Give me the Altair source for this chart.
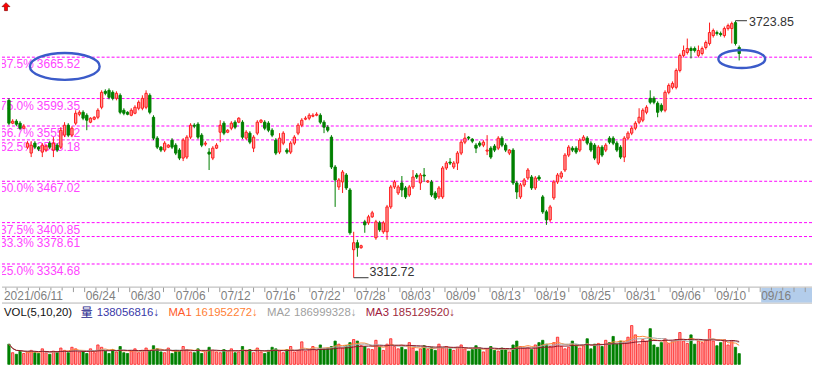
import altair as alt
import pandas as pd

# ---------------- data ----------------
opens = [3596.5, 3559.9, 3563.1, 3559.9, 3551.9, 3521.6, 3512.1, 3528.0, 3521.6, 3513.7,
         3516.9, 3528.0, 3516.9, 3524.8, 3521.6, 3540.8, 3556.7, 3540.8, 3559.9, 3574.2,
         3577.4, 3572.6, 3561.5, 3566.3, 3569.4, 3585.4, 3610.9, 3612.5, 3609.3, 3599.7,
         3604.5, 3580.6, 3577.4, 3572.6, 3575.8, 3583.8, 3583.8, 3585.4, 3604.5, 3569.4,
         3536.0, 3521.6, 3516.9, 3521.6, 3532.8, 3524.8, 3516.9, 3504.1, 3505.7, 3537.6,
         3556.7, 3558.3, 3540.8, 3526.4, 3513.7, 3504.1, 3520.0, 3545.5, 3559.9, 3545.5,
         3551.9, 3561.5, 3561.5, 3561.5, 3536.0, 3544.0, 3520.0, 3544.0, 3561.5, 3561.5,
         3559.9, 3548.7, 3532.8, 3513.7, 3528.0, 3516.9, 3513.7, 3528.0, 3544.0, 3556.7,
         3566.3, 3567.9, 3571.0, 3572.6, 3572.6, 3561.5, 3553.5, 3537.6, 3489.8, 3457.9,
         3465.9, 3477.0, 3453.1, 3357.5, 3368.7, 3360.7, 3402.1, 3400.5, 3410.1, 3376.6,
         3400.5, 3386.2, 3386.2, 3426.0, 3457.9, 3448.3, 3464.3, 3456.3, 3445.1, 3457.9,
         3477.0, 3464.3, 3477.0, 3465.9, 3465.9, 3448.3, 3442.0, 3442.0, 3488.2, 3497.7,
         3489.8, 3496.1, 3512.1, 3529.6, 3537.6, 3534.4, 3524.8, 3528.0, 3524.8, 3515.3,
         3520.0, 3523.2, 3520.0, 3536.0, 3524.8, 3512.1, 3516.9, 3464.3, 3442.0, 3461.1,
         3472.2, 3473.8, 3456.3, 3473.8, 3442.0, 3418.1, 3405.3, 3440.4, 3465.9, 3473.8,
         3485.0, 3508.9, 3520.0, 3520.0, 3516.9, 3532.8, 3536.0, 3528.0, 3524.8, 3496.1,
         3521.6, 3516.9, 3536.0, 3536.0, 3528.0, 3521.6, 3505.7, 3536.0, 3544.0, 3551.9,
         3561.5, 3564.7, 3577.4, 3599.7, 3599.7, 3591.8, 3588.6, 3580.6, 3609.3, 3617.3,
         3617.3, 3644.3, 3668.3, 3673.0, 3679.4, 3679.4, 3668.3, 3671.4, 3681.0, 3687.4,
         3700.1, 3704.9, 3703.3, 3700.1, 3711.3, 3711.3, 3720.8, 3681.0]

highs = [3599.7, 3566.3, 3566.3, 3563.1, 3558.3, 3531.2, 3531.2, 3531.2, 3523.2, 3528.0,
         3526.4, 3531.2, 3537.6, 3528.0, 3553.5, 3561.5, 3559.9, 3555.1, 3580.6, 3580.6,
         3580.6, 3575.8, 3569.4, 3571.0, 3583.8, 3612.5, 3614.1, 3615.7, 3612.5, 3610.9,
         3607.7, 3583.8, 3579.0, 3583.8, 3588.6, 3596.5, 3604.5, 3612.5, 3607.7, 3572.6,
         3539.2, 3523.2, 3531.2, 3526.4, 3536.0, 3528.0, 3520.0, 3536.0, 3540.8, 3559.9,
         3559.9, 3561.5, 3544.0, 3531.2, 3520.0, 3523.2, 3528.0, 3564.7, 3563.1, 3550.3,
         3563.1, 3564.7, 3569.4, 3564.7, 3548.7, 3547.1, 3540.8, 3564.7, 3566.3, 3564.7,
         3563.1, 3551.9, 3536.0, 3544.0, 3547.1, 3520.0, 3531.2, 3540.8, 3559.9, 3567.9,
         3571.0, 3575.8, 3575.8, 3577.4, 3575.8, 3564.7, 3556.7, 3540.8, 3493.0, 3472.2,
         3485.0, 3480.2, 3456.3, 3386.2, 3373.4, 3365.5, 3405.3, 3413.3, 3419.7, 3405.3,
         3403.7, 3403.7, 3429.2, 3461.1, 3469.1, 3461.1, 3475.4, 3459.5, 3461.1, 3485.0,
         3480.2, 3480.2, 3488.2, 3469.1, 3469.1, 3451.5, 3459.5, 3491.4, 3499.3, 3504.1,
         3499.3, 3515.3, 3532.8, 3544.0, 3539.2, 3536.0, 3528.0, 3531.2, 3532.8, 3540.8,
         3523.2, 3526.4, 3539.2, 3539.2, 3528.0, 3518.5, 3520.0, 3467.5, 3464.3, 3472.2,
         3488.2, 3477.0, 3475.4, 3477.0, 3445.1, 3421.3, 3429.2, 3469.1, 3480.2, 3483.4,
         3512.1, 3524.8, 3523.2, 3523.2, 3536.0, 3540.8, 3539.2, 3531.2, 3528.0, 3524.8,
         3524.8, 3528.0, 3539.2, 3539.2, 3531.2, 3524.8, 3539.2, 3547.1, 3555.1, 3563.1,
         3583.8, 3583.8, 3588.6, 3612.5, 3602.9, 3594.9, 3591.8, 3612.5, 3623.6, 3626.8,
         3647.5, 3671.4, 3684.2, 3695.3, 3682.6, 3682.6, 3684.2, 3682.6, 3692.2, 3720.8,
         3711.3, 3708.1, 3706.5, 3714.5, 3719.2, 3722.4, 3723.85, 3684.2]

lows = [3556.7, 3558.3, 3555.1, 3548.7, 3550.3, 3518.5, 3505.7, 3518.5, 3515.3, 3505.7,
        3513.7, 3518.5, 3505.7, 3513.7, 3518.5, 3537.6, 3537.6, 3537.6, 3556.7, 3571.0,
        3564.7, 3548.7, 3559.9, 3564.7, 3566.3, 3582.2, 3604.5, 3598.1, 3596.5, 3596.5,
        3574.2, 3572.6, 3572.6, 3571.0, 3574.2, 3580.6, 3580.6, 3582.2, 3574.2, 3532.8,
        3518.5, 3513.7, 3513.7, 3520.0, 3518.5, 3508.9, 3500.9, 3499.3, 3502.5, 3534.4,
        3551.9, 3534.4, 3521.6, 3523.2, 3485.0, 3500.9, 3518.5, 3529.6, 3540.8, 3544.0,
        3548.7, 3550.3, 3559.9, 3534.4, 3532.8, 3526.4, 3513.7, 3540.8, 3559.9, 3548.7,
        3545.5, 3537.6, 3508.9, 3510.5, 3524.8, 3510.5, 3510.5, 3524.8, 3540.8, 3553.5,
        3564.7, 3564.7, 3569.4, 3571.0, 3558.3, 3544.0, 3545.5, 3486.6, 3426.0, 3453.1,
        3448.3, 3453.1, 3381.4, 3312.72, 3346.3, 3359.1, 3384.6, 3397.3, 3408.5, 3373.4,
        3386.2, 3383.0, 3373.4, 3422.8, 3454.7, 3445.1, 3442.0, 3438.8, 3442.0, 3454.7,
        3470.6, 3453.1, 3465.9, 3464.3, 3442.0, 3437.2, 3438.8, 3438.8, 3485.0, 3493.0,
        3486.6, 3485.0, 3508.9, 3526.4, 3532.8, 3528.0, 3512.1, 3521.6, 3521.6, 3508.9,
        3502.5, 3513.7, 3516.9, 3521.6, 3513.7, 3508.9, 3461.1, 3438.8, 3438.8, 3457.9,
        3469.1, 3453.1, 3453.1, 3467.5, 3414.9, 3397.3, 3402.1, 3437.2, 3462.7, 3470.6,
        3481.8, 3505.7, 3513.7, 3510.5, 3513.7, 3531.2, 3524.8, 3513.7, 3500.9, 3493.0,
        3505.7, 3513.7, 3526.4, 3524.8, 3513.7, 3502.5, 3497.7, 3532.8, 3540.8, 3548.7,
        3558.3, 3561.5, 3574.2, 3590.2, 3590.2, 3569.4, 3577.4, 3577.4, 3606.1, 3614.1,
        3614.1, 3641.2, 3665.1, 3669.8, 3663.5, 3673.0, 3665.1, 3668.3, 3677.8, 3684.2,
        3696.9, 3700.1, 3698.5, 3696.9, 3708.1, 3687.4, 3684.2, 3660.3]

closes = [3559.9, 3563.1, 3558.3, 3551.9, 3555.1, 3528.0, 3524.8, 3521.6, 3518.5, 3524.8,
          3523.2, 3521.6, 3528.0, 3516.9, 3548.7, 3556.7, 3540.8, 3551.9, 3575.8, 3577.4,
          3567.9, 3564.7, 3567.9, 3569.4, 3580.6, 3609.3, 3607.7, 3601.3, 3599.7, 3607.7,
          3577.4, 3575.8, 3574.2, 3580.6, 3585.4, 3593.4, 3599.7, 3607.7, 3577.4, 3536.0,
          3521.6, 3516.9, 3528.0, 3524.8, 3521.6, 3512.1, 3504.1, 3532.8, 3537.6, 3556.7,
          3555.1, 3537.6, 3524.8, 3528.0, 3510.5, 3520.0, 3524.8, 3556.7, 3544.0, 3548.7,
          3559.9, 3553.5, 3567.9, 3537.6, 3545.5, 3529.6, 3537.6, 3561.5, 3564.7, 3551.9,
          3548.7, 3540.8, 3512.1, 3536.0, 3544.0, 3513.7, 3528.0, 3537.6, 3556.7, 3564.7,
          3567.9, 3572.6, 3572.6, 3574.2, 3561.5, 3553.5, 3548.7, 3489.8, 3469.1, 3469.1,
          3481.8, 3456.3, 3384.6, 3368.7, 3360.7, 3363.9, 3397.3, 3410.1, 3416.5, 3402.1,
          3389.4, 3400.5, 3426.0, 3457.9, 3465.9, 3457.9, 3453.1, 3442.0, 3457.9, 3473.8,
          3473.8, 3477.0, 3475.4, 3467.5, 3445.1, 3440.4, 3456.3, 3488.2, 3496.1, 3496.1,
          3496.1, 3512.1, 3529.6, 3536.0, 3536.0, 3531.2, 3520.0, 3524.8, 3529.6, 3516.9,
          3505.7, 3516.9, 3536.0, 3524.8, 3516.9, 3516.9, 3464.3, 3449.9, 3461.1, 3469.1,
          3485.0, 3456.3, 3472.2, 3470.6, 3418.1, 3405.3, 3426.0, 3465.9, 3477.0, 3480.2,
          3508.9, 3521.6, 3516.9, 3513.7, 3532.8, 3537.6, 3528.0, 3516.9, 3504.1, 3521.6,
          3508.9, 3524.8, 3529.6, 3528.0, 3516.9, 3505.7, 3536.0, 3544.0, 3551.9, 3559.9,
          3569.4, 3580.6, 3585.4, 3593.4, 3593.4, 3577.4, 3580.6, 3609.3, 3620.4, 3623.6,
          3644.3, 3668.3, 3676.2, 3679.4, 3676.2, 3676.2, 3676.2, 3679.4, 3689.0, 3704.9,
          3708.1, 3703.3, 3701.7, 3711.3, 3716.1, 3719.2, 3687.4, 3671.4]

# volume in millions of shares
volumes = [260, 150, 130, 170, 140, 160, 180, 150, 140, 200, 150, 130, 170, 160, 210, 180, 150, 220, 200, 160,
           170, 140, 200, 150, 250, 220, 170, 140, 190, 160, 230, 150, 140, 170, 200, 150, 180, 210, 170, 240,
           200, 160, 150, 210, 140, 180, 170, 230, 190, 160, 150, 200, 140, 170, 220, 180, 160, 150, 190, 170,
           200, 150, 160, 230, 170, 190, 150, 210, 160, 140, 180, 220, 200, 170, 150, 190, 230, 160, 180, 290,
           170, 190, 230, 180, 250, 200, 210, 230, 300, 260, 210, 240, 280, 320, 300, 240, 230, 200, 190, 310,
           220, 180, 260, 330, 230, 200, 220, 190, 280, 210, 170, 200, 240, 190, 220, 180, 260, 210, 230, 200,
           180, 220, 250, 200, 170, 190, 240, 210, 160, 200, 230, 180, 170, 210, 190, 160, 250, 300, 230, 210,
           220, 190, 250, 280, 310, 260, 230, 280, 350, 230, 200, 220, 300, 250, 210, 240, 330, 200, 260, 270,
           230, 310, 280, 360, 260, 300, 290, 350, 500, 380, 260, 320, 300, 460, 250, 220, 280, 330, 270, 300,
           320, 410, 300, 270, 380, 260, 300, 280, 320, 450, 300, 240, 280, 320, 250, 300, 220, 138.06]

fib_pct = ["87.5%", "75.0%", "66.7%", "62.5%", "50.0%", "37.5%", "33.3%", "25.0%"]
fib_val = ["3665.52", "3599.35", "3555.42", "3533.18", "3467.02", "3400.85", "3378.61", "3334.68"]

first_date = "2021/06/11"
date_labels = ["06/24", "06/30", "07/06", "07/12", "07/16", "07/22", "07/28", "08/03",
               "08/09", "08/13", "08/19", "08/25", "08/31", "09/06", "09/10", "09/16"]

high_text = "3723.85"
low_text = "3312.72"

vol_header = [("VOL(5,10,20)", "#111111"), ("量", "#23238c"), ("138056816↓", "#3838a8"),
              ("MA1", "#ff5a2a"), ("161952272↓", "#ff7f36"), ("MA2", "#a0a0a0"),
              ("186999328↓", "#a0a0a0"), ("MA3", "#a0203c"), ("185129520↓", "#a02a3c")]

# ---------------- layout constants ----------------
W = 813
PRICE_H = 287
BAND_H = 36
VOL_H = 42
XDOM = [-0.53, 215.3]
YDOM = [3298.5, 3755.9]
FONT = "Liberation Sans"

n = len(opens)
df = pd.DataFrame({"i": list(range(n)), "o": opens, "h": highs, "l": lows,
                   "c": closes, "v": volumes})
df["dir"] = ["up" if c >= o else "down" for o, c in zip(opens, closes)]

xs = alt.Scale(domain=XDOM, nice=False, zero=False)
ys = alt.Scale(domain=YDOM, nice=False, zero=False)
X = alt.X("i:Q", scale=xs, axis=None)
fill_sc = alt.Scale(domain=["up", "down"], range=["#ff9a9a", "#008000"])
stroke_sc = alt.Scale(domain=["up", "down"], range=["#ff1a1a", "#008000"])

base = alt.Chart(df)

# ---------------- price panel ----------------
fib_df = pd.DataFrame({"pct": fib_pct, "val": [float(v) for v in fib_val], "vt": fib_val})
fib_rules = alt.Chart(fib_df).mark_rule(color="#ff00ff", strokeDash=[3, 2], strokeWidth=1).encode(
    y=alt.Y("val:Q", scale=ys, axis=None))
fib_pct_txt = alt.Chart(fib_df).mark_text(align="left", baseline="middle", dy=7, fontSize=12,
                                          font=FONT, color="#ff44ff", clip=True).encode(
    x=alt.value(-2), y=alt.Y("val:Q", scale=ys, axis=None), text="pct:N")
fib_val_txt = alt.Chart(fib_df).mark_text(align="left", baseline="middle", dy=7, fontSize=12,
                                          font=FONT, color="#ff44ff").encode(
    x=alt.value(35), y=alt.Y("val:Q", scale=ys, axis=None), text="vt:N")

wicks = base.mark_rule(strokeWidth=1).encode(
    x=X, y=alt.Y("l:Q", scale=ys, axis=None), y2="h:Q",
    stroke=alt.Stroke("dir:N", scale=stroke_sc, legend=None))
bodies = base.mark_bar(size=2.3, strokeWidth=1).encode(
    x=X, y=alt.Y("o:Q", scale=ys, axis=None), y2="c:Q",
    fill=alt.Fill("dir:N", scale=fill_sc, legend=None),
    stroke=alt.Stroke("dir:N", scale=stroke_sc, legend=None))

hi_i = max(range(n), key=lambda k: highs[k])
lo_i = min(range(n), key=lambda k: lows[k])
ann_df = pd.DataFrame({"i": [hi_i, lo_i], "i2": [hi_i + 3.1, lo_i + 4.0],
                       "p": [highs[hi_i], lows[lo_i]], "t": [high_text, low_text],
                       "k": ["hi", "lo"]})
ann_rule = alt.Chart(ann_df).mark_rule(color="#333333", strokeWidth=1).encode(
    x=alt.X("i:Q", scale=xs, axis=None), x2="i2:Q", y=alt.Y("p:Q", scale=ys, axis=None))
ann_hi_txt = alt.Chart(ann_df).transform_filter(alt.datum.k == "hi").mark_text(
    align="left", baseline="middle", dx=2, dy=1, fontSize=12.5, font=FONT, color="#333333").encode(
    x=alt.X("i2:Q", scale=xs, axis=None), y=alt.Y("p:Q", scale=ys, axis=None), text="t:N")
ann_lo_txt = alt.Chart(ann_df).transform_filter(alt.datum.k == "lo").mark_text(
    align="left", baseline="alphabetic", dx=1, dy=-2, fontSize=12.5, font=FONT, color="#333333").encode(
    x=alt.X("i2:Q", scale=xs, axis=None), y=alt.Y("p:Q", scale=ys, axis=None), text="t:N")

one = pd.DataFrame({"k": [0]})
ELL = "M-1,0C-1,-0.212,-0.552,-0.385,0,-0.385C0.552,-0.385,1,-0.212,1,0C1,0.212,0.552,0.385,0,0.385C-0.552,0.385,-1,0.212,-1,0Z"
ell1 = alt.Chart(one).mark_point(shape=ELL, size=4900, filled=False, stroke="#3b5bc9",
                                 strokeWidth=2.4, opacity=1).encode(x=alt.value(63), y=alt.value(66))
ell2 = alt.Chart(one).mark_point(shape=ELL, size=2209, filled=False, stroke="#3b5bc9",
                                 strokeWidth=2.4, opacity=1).encode(x=alt.value(742.5), y=alt.value(58.5))
ARROW = "M0,-1L1,0L0.38,0L0.38,1L-0.38,1L-0.38,0L-1,0Z"
arrow = alt.Chart(one).mark_point(shape=ARROW, size=64, filled=True, fill="#ff0000",
                                  stroke="#7a0000", strokeWidth=0.6, opacity=1).encode(
    x=alt.value(4), y=alt.value(6))

price = alt.layer(fib_rules, fib_pct_txt, fib_val_txt, wicks, bodies, ann_rule, ann_hi_txt,
                  ann_lo_txt, ell1, ell2, arrow).properties(width=W, height=PRICE_H)

# ---------------- date band + volume header ----------------
lab_df = pd.DataFrame({"idx": [21.5 + 12 * k for k in range(len(date_labels))],
                       "t": date_labels})
lab_df["bg"] = ["hl" if k == len(date_labels) - 1 else "plain" for k in range(len(date_labels))]
tick_df = pd.DataFrame({"idx": [21.5 + 3 * m for m in range(-7, 65)]})

band_lines = alt.Chart(pd.DataFrame({"y": [0.5, 16.5]})).mark_rule(color="#b4b4b4", strokeWidth=1).encode(
    x=alt.value(0), x2=alt.value(W), y=alt.Y("y:Q", scale=alt.Scale(domain=[0, BAND_H], range=[0, BAND_H]), axis=None))
hl_rect = alt.Chart(lab_df).transform_filter(alt.datum.bg == "hl").mark_rect(
    color="#b3cdeb", xOffset=1).encode(
    x=alt.X("idx:Q", scale=xs, axis=None), x2=alt.value(W), y=alt.value(1.5), y2=alt.value(16))
ticks = alt.Chart(tick_df).mark_rule(color="#9a9a9a", strokeWidth=1).encode(
    x=alt.X("idx:Q", scale=xs, axis=None), y=alt.value(1), y2=alt.value(5.5))
lab_bg = alt.Chart(lab_df).mark_rect(xOffset=1.5, x2Offset=33).encode(
    x=alt.X("idx:Q", scale=xs, axis=None), x2="idx:Q", y=alt.value(4), y2=alt.value(15),
    color=alt.Color("bg:N", scale=alt.Scale(domain=["plain", "hl"], range=["#ffffff", "#b3cdeb"]), legend=None))
labs = alt.Chart(lab_df).mark_text(align="left", baseline="middle", dx=1, fontSize=12, font=FONT,
                                   color="#7f7f7f").encode(
    x=alt.X("idx:Q", scale=xs, axis=None), y=alt.value(9), text="t:N")
first_bg = alt.Chart(one).mark_rect(color="#ffffff").encode(
    x=alt.value(1), x2=alt.value(63), y=alt.value(4), y2=alt.value(15))
first_lab = alt.Chart(pd.DataFrame({"t": [first_date]})).mark_text(
    align="left", baseline="middle", fontSize=12, font=FONT, color="#7f7f7f").encode(
    x=alt.value(2), y=alt.value(9), text="t:N")

hdr_x = [2, 79, 95, 167, 194, 266, 293, 365, 392]
hdr_layers = []
for (txt, col), hx in zip(vol_header, hdr_x):
    fnt = "Noto Sans CJK SC" if txt == "量" else FONT
    hdr_layers.append(alt.Chart(pd.DataFrame({"t": [txt]})).mark_text(
        align="left", baseline="middle", fontSize=12 if txt == "量" else 11.4, font=fnt, color=col).encode(
        x=alt.value(hx), y=alt.value(26), text="t:N"))

band = alt.layer(band_lines, hl_rect, ticks, lab_bg, labs, first_bg, first_lab, *hdr_layers).properties(
    width=W, height=BAND_H)

# ---------------- volume panel ----------------
vs = alt.Scale(domain=[0, 540], nice=False, zero=True)
vbars = base.mark_bar(size=2.3, strokeWidth=0.8).encode(
    x=X, y=alt.Y("v:Q", scale=vs, axis=None),
    fill=alt.Fill("dir:N", scale=alt.Scale(domain=["up", "down"], range=["#ff8c8c", "#008000"]), legend=None),
    stroke=alt.Stroke("dir:N", scale=stroke_sc, legend=None))
ma = base.transform_window(ma5="mean(v)", frame=[-4, 0], sort=[alt.SortField("i")]).transform_window(
    ma10="mean(v)", frame=[-9, 0], sort=[alt.SortField("i")]).transform_window(
    ma20="mean(v)", frame=[-19, 0], sort=[alt.SortField("i")])
ma5 = ma.mark_line(color="#ff8a3a", strokeWidth=1).encode(x=X, y=alt.Y("ma5:Q", scale=vs, axis=None))
ma10 = ma.mark_line(color="#a8a8a8", strokeWidth=1).encode(x=X, y=alt.Y("ma10:Q", scale=vs, axis=None))
ma20 = ma.mark_line(color="#8c1a2a", strokeWidth=1).encode(x=X, y=alt.Y("ma20:Q", scale=vs, axis=None))

vol = alt.layer(vbars, ma5, ma10, ma20).properties(width=W, height=VOL_H)

chart = alt.vconcat(price, band, vol, spacing=0).properties(padding=0, background="#ffffff").configure_view(
    stroke=None).configure_concat(spacing=0)

chart.save("out.html", embed_options={"renderer": "svg", "actions": False})
